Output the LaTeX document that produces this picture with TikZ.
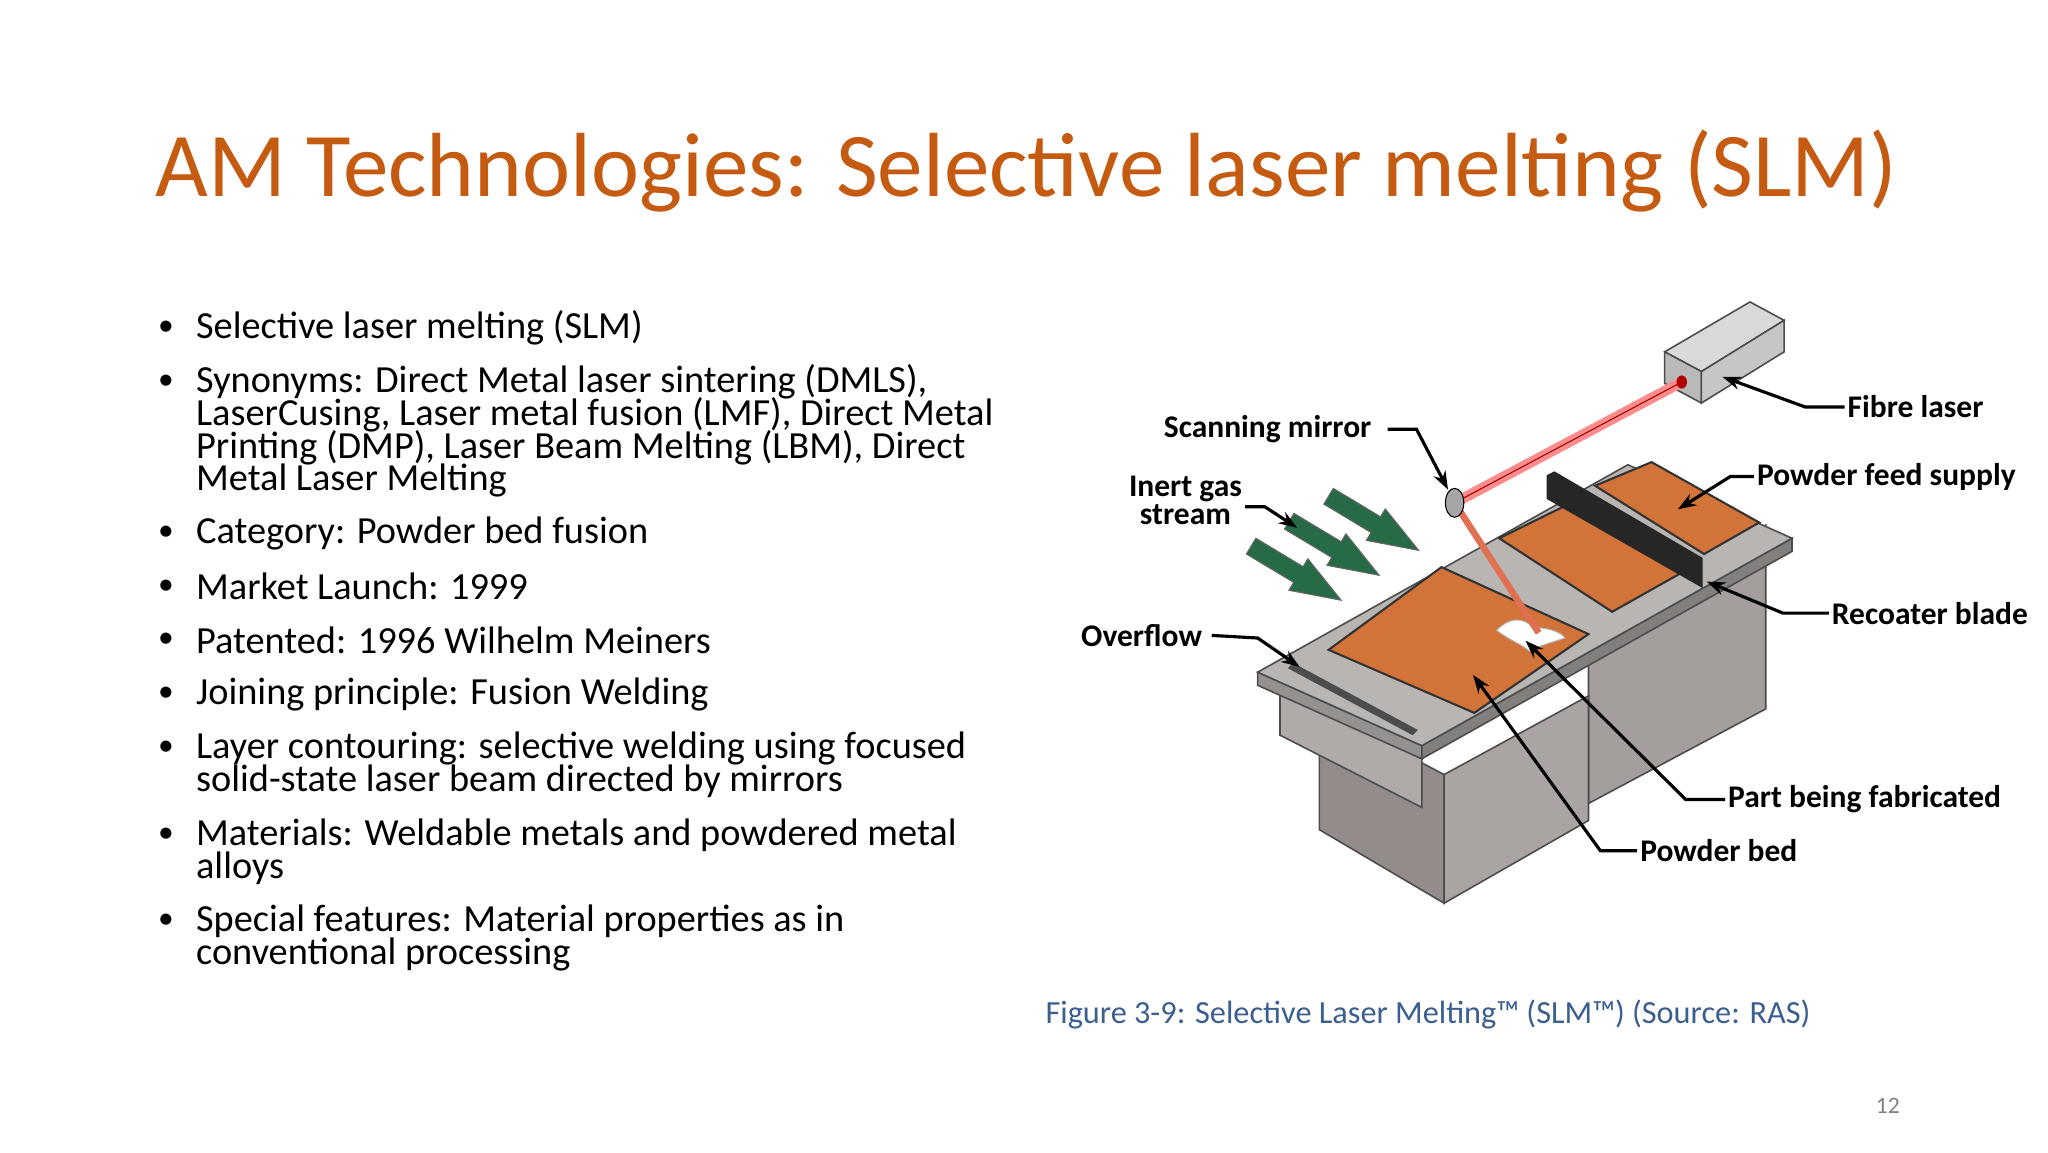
\documentclass[tikz,border=0pt]{standalone}
\usepackage{fontspec}
\setmainfont{Carlito}
\usetikzlibrary{arrows.meta}
\definecolor{ttl}{HTML}{C55A11}
\definecolor{cap}{HTML}{3B5F8F}
\definecolor{orng}{HTML}{D2733A}
\definecolor{tank}{HTML}{8E8684}
\definecolor{plate}{HTML}{B9B5B3}
\definecolor{grn}{HTML}{2E7D52}
\begin{document}
\begin{tikzpicture}[x=0.5pt,y=-0.5pt,
  bl/.style={anchor=west,font=\fontsize{14.6}{16}\selectfont,inner sep=0},
  lbl/.style={font=\bfseries\fontsize{12}{13.5}\selectfont,inner sep=1pt},
  lead/.style={draw=black,line width=1.2pt,-{Stealth[length=7pt,width=5pt]}},
  edge/.style={draw=black!70,line width=0.6pt}]
\useasboundingbox (0,0) rectangle (1560,878);
\fill[white] (0,0) rectangle (1560,878);
\node[anchor=west,inner sep=0,text=ttl,font=\fontsize{34.7}{40}\selectfont] (title) at (118,130) {AM Technologies: Selective laser melting (SLM)};
% bullets
\foreach \y in {250,291,406,447,488,529,570,636,702} \node[anchor=west,inner sep=0,font=\fontsize{12}{14}\selectfont] at (120,\y) {•};
\node[bl] (b1) at (149,250) {Selective laser melting (SLM)};
\node[bl] (b2) at (149,291) {Synonyms: Direct Metal laser sintering (DMLS),};
\node[bl] at (149,316) {LaserCusing, Laser metal fusion (LMF), Direct Metal};
\node[bl] at (149,341) {Printing (DMP), Laser Beam Melting (LBM), Direct};
\node[bl] at (149,366) {Metal Laser Melting};
\node[bl] (b3) at (149,406) {Category: Powder bed fusion};
\node[bl] (b4) at (149,447) {Market Launch: 1999};
\node[bl] (b5) at (149,488) {Patented: 1996 Wilhelm Meiners};
\node[bl] (b6) at (149,529) {Joining principle: Fusion Welding};
\node[bl] (b7) at (149,570) {Layer contouring: selective welding using focused};
\node[bl] at (149,595) {solid-state laser beam directed by mirrors};
\node[bl] (b8) at (149,636) {Materials: Weldable metals and powdered metal};
\node[bl] at (149,661) {alloys};
\node[bl] (b9) at (149,702) {Special features: Material properties as in};
\node[bl] at (149,727) {conventional processing};
% tanks
\fill[tank!80,edge] (1210,470) -- (1345,400) -- (1345,540) -- (1210,612) -- cycle;
\fill[tank!95,edge] (1005,540) -- (1100,590) -- (1100,688) -- (1005,632) -- cycle;
\fill[tank!75,edge] (1100,590) -- (1210,530) -- (1210,625) -- (1100,688) -- cycle;
% front skirt (overflow lip)
\fill[tank!70,edge] (975,525) -- (1083,578) -- (1083,615) -- (975,560) -- cycle;
% plate
\fill[plate!80!black,edge] (958,512) -- (1083,568) -- (1083,578) -- (958,522) -- cycle;
\fill[plate!70!black,edge] (1083,568) -- (1365,410) -- (1365,420) -- (1083,578) -- cycle;
\fill[plate,edge] (958,512) -- (1083,568) -- (1365,410) -- (1240,354) -- cycle;
% overflow slot
\fill[black!70] (985,505) -- (1080,556) -- (1076,560) -- (981,509) -- cycle;
% beds
\fill[orng,draw=black!80,line width=0.8pt] (1012,495) -- (1123,543) -- (1210,483) -- (1098,432) -- cycle;
\fill[orng,draw=black!80,line width=0.8pt] (1142,410) -- (1228,466) -- (1292,430) -- (1207,378) -- cycle;
\fill[orng,draw=black!80,line width=0.8pt] (1215,370) -- (1298,422) -- (1340,398) -- (1258,352) -- cycle;
% blade
\fill[black!85] (1178,362) -- (1184,359) -- (1297,425) -- (1297,448) -- (1178,380) -- cycle;
% part
\fill[white,draw=black!30] (1140,480) .. controls (1150,470) and (1160,470) .. (1168,478) .. controls (1180,478) and (1190,482) .. (1192,486) .. controls (1180,490) and (1172,492) .. (1165,496) .. controls (1158,490) and (1150,488) .. (1140,480) -- cycle;
% laser box
\fill[gray!30,edge] (1268,268) -- (1333,230) -- (1359,244) -- (1296,283) -- cycle;
\fill[gray!55,edge] (1268,268) -- (1296,283) -- (1296,307) -- (1268,292) -- cycle;
\fill[gray!45,edge] (1296,283) -- (1359,244) -- (1359,268) -- (1296,307) -- cycle;
% beam
\coordinate (mir) at (1108,383);
\coordinate (spot) at (1172,482);
\draw[red!45,line width=4pt] (1281,291) -- (mir);
\draw[red!60!black,line width=0.4pt] (1281,291) -- (mir);
\draw[red!40!brown!80,line width=2.5pt] (mir) -- (spot);
\fill[gray!70,draw=black] (mir) ellipse [x radius=7, y radius=11];
\fill[red!70!black] (1281,291) ellipse [x radius=4,y radius=5];
% gas arrows
\foreach \sx/\sy in {1012/378, 982/397, 953/416}{
  \begin{scope}[shift={(\sx,\sy)},rotate=-31]
   \fill[grn!85!black,draw=black!60] (0,-7) -- (42,-7) -- (42,-14) -- (80,0) -- (42,14) -- (42,7) -- (0,7) -- cycle;
  \end{scope}}
% labels
\node[lbl,anchor=west] (fl) at (1405,310) {Fibre laser};
\node[lbl,anchor=east] (sm) at (1047,327) {Scanning mirror};
\node[lbl,align=center] (ig) at (903,381) {Inert gas\\[-3pt]stream};
\node[lbl,anchor=west] (pf) at (1336,363) {Powder feed supply};
\node[lbl,anchor=west] (rb) at (1393,467) {Recoater blade};
\node[lbl,anchor=east] (ov) at (918,484) {Overflow};
\node[lbl,anchor=west] (pb) at (1314,609) {Part being fabricated};
\node[lbl,anchor=west] (pw) at (1247,648) {Powder bed};
\coordinate (t1) at (1312,287); \coordinate (t2) at (1103,373);
\coordinate (t3) at (988,402); \coordinate (t4) at (1278,388);
\coordinate (t5) at (1300,443); \coordinate (t6) at (990,508);
\coordinate (t7) at (1162,488); \coordinate (t8) at (1122,514);
\draw[lead] (fl.west) -- ++(-30,0) -- (t1);
\draw[lead] (sm.east) ++(10,0) -- ++(22,0) -- (t2);
\draw[lead] (ig.east) ++(0,5) -- ++(15,0) -- (t3);
\draw[lead] (pf.west) -- ++(-18,0) -- (t4);
\draw[lead] (rb.west) -- ++(-35,0) -- (t5);
\draw[lead] (ov.east) ++(5,0) -- ++(35,2) -- (t6);
\draw[lead] (pb.west) -- ++(-30,0) -- (t7);
\draw[lead] (pw.west) -- ++(-28,0) -- (t8);
\node[anchor=west,inner sep=0,text=cap,font=\fontsize{12.3}{14}\selectfont] (cp) at (796,773) {Figure 3-9: Selective Laser Melting™ (SLM™) (Source: RAS)};
\node[text=gray,font=\fontsize{9}{10}\selectfont] (pg) at (1438,842) {12};
\end{tikzpicture}
\end{document}
